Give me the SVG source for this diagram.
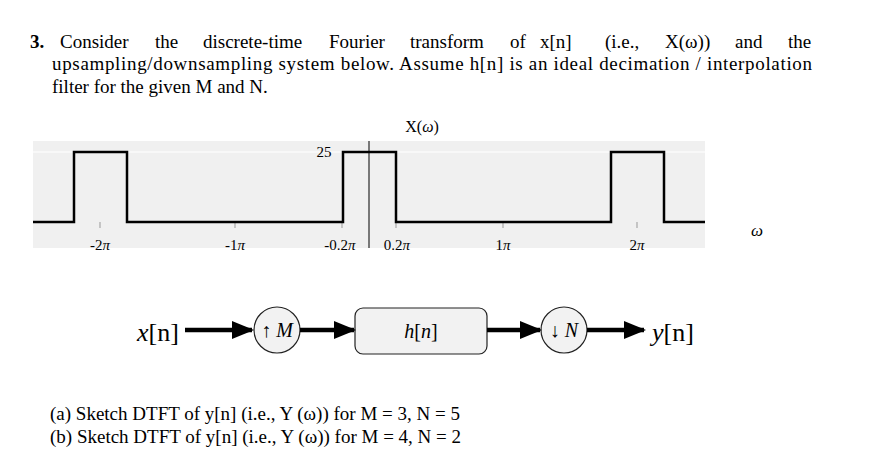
<svg xmlns="http://www.w3.org/2000/svg" width="881" height="476" viewBox="0 0 881 476">
<style>
text{font-family:"Liberation Serif","DejaVu Serif",serif;fill:#000}
.t{font-size:19px}
.tk{font-size:15px;text-anchor:middle}
.m{font-style:italic}
.c{stroke:#000;stroke-width:4.5;fill:none}
.n{fill:#f2f2f2;stroke:#222;stroke-width:1.2}
</style>
<defs><marker id="ah" markerWidth="5" markerHeight="4" refX="4.5" refY="2" orient="auto"><path d="M0,0L5,2L0,4Z" fill="#000"/></marker></defs>
<rect width="881" height="476" fill="#fff"/>
<text class="t" y="48"><tspan x="30" font-weight="bold">3.</tspan><tspan x="60">Consider</tspan><tspan x="155">the</tspan><tspan x="203">discrete-time</tspan><tspan x="329">Fourier</tspan><tspan x="410">transform</tspan><tspan x="510">of</tspan><tspan x="540">x[n]</tspan><tspan x="605">(i.e.,</tspan><tspan x="665">X(ω))</tspan><tspan x="735">and</tspan><tspan x="788">the</tspan></text>
<text class="t" x="52" y="70" textLength="760" lengthAdjust="spacing">upsampling/downsampling system below. Assume h[n] is an ideal decimation / interpolation</text>
<text class="t" x="52" y="93">filter for the given M and N.</text>
<g id="plot">
<rect x="33" y="141" width="672" height="107" fill="#f0f0f0"/>
<line x1="33" y1="152" x2="705" y2="152" stroke="#fff" stroke-width="1.2"/>
<g stroke="#999" stroke-width="1"><line x1="100" y1="222" x2="100" y2="228"/><line x1="235" y1="222" x2="235" y2="228"/><line x1="342" y1="222" x2="342" y2="228"/><line x1="396" y1="222" x2="396" y2="228"/><line x1="503" y1="222" x2="503" y2="228"/><line x1="637" y1="222" x2="637" y2="228"/></g>
<line x1="369" y1="141" x2="369" y2="248" stroke="#000" stroke-width="1"/>
<path d="M33,222H74V152H127V222H343V152H396V222H611V152H664V222H705" fill="none" stroke="#000" stroke-width="2.5"/>
<text class="tk" x="100" y="250">-2<tspan class="m">π</tspan></text><text class="tk" x="235" y="250">-1<tspan class="m">π</tspan></text><text class="tk" x="340" y="250">-0.2<tspan class="m">π</tspan></text><text class="tk" x="397" y="250">0.2<tspan class="m">π</tspan></text><text class="tk" x="503" y="250">1<tspan class="m">π</tspan></text><text class="tk" x="637" y="250">2<tspan class="m">π</tspan></text>
<text class="tk" x="324" y="157">25</text>
<text x="422" y="132" font-size="16" text-anchor="middle">X(<tspan class="m">ω</tspan>)</text>
<text x="757" y="236" font-size="17" class="m" text-anchor="middle">ω</text>
</g>
<g id="x"><text x="137" y="341" font-size="26"><tspan class="m">x</tspan>[n]</text></g>
<g id="up"><circle class="n" cx="277" cy="330" r="23"/><text x="277" y="337" font-size="20" text-anchor="middle">↑ <tspan class="m">M</tspan></text></g>
<g id="h"><rect class="n" x="355" y="308" width="132" height="46" rx="8"/><text x="421" y="338" font-size="20" text-anchor="middle"><tspan class="m">h</tspan>[<tspan class="m">n</tspan>]</text></g>
<g id="down"><circle class="n" cx="564" cy="330" r="23"/><text x="564" y="337" font-size="20" text-anchor="middle">↓ <tspan class="m">N</tspan></text></g>
<g id="y"><text x="652" y="341" font-size="26"><tspan class="m">y</tspan>[n]</text></g>
<g id="connectors">
<line class="c" x1="185" y1="330" x2="252" y2="330" marker-end="url(#ah)"/>
<line class="c" x1="300" y1="330" x2="354" y2="330" marker-end="url(#ah)"/>
<line class="c" x1="487" y1="330" x2="540" y2="330" marker-end="url(#ah)"/>
<line class="c" x1="587" y1="330" x2="644" y2="330" marker-end="url(#ah)"/>
</g>
<text class="t" x="50" y="420">(a) Sketch DTFT of y[n] (i.e., Y (ω)) for M = 3, N = 5</text>
<text class="t" x="50" y="443">(b) Sketch DTFT of y[n] (i.e., Y (ω)) for M = 4, N = 2</text>
</svg>
